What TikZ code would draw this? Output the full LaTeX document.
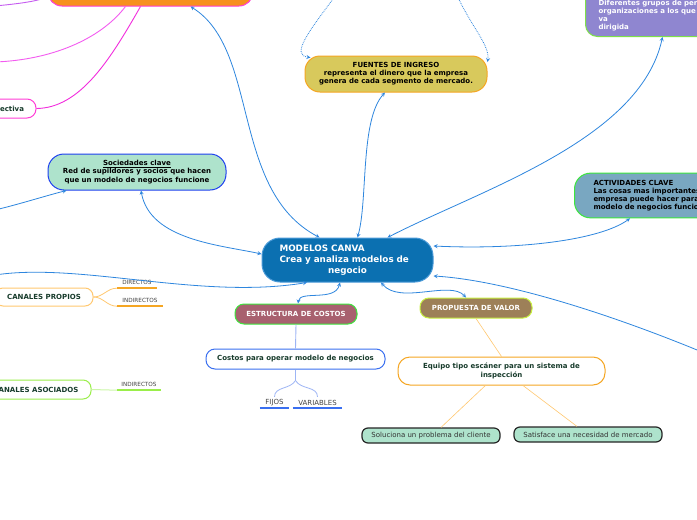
\documentclass[tikz,border=0pt]{standalone}
\usepackage{fontspec}
\setmainfont{DejaVu Sans}

\definecolor{corange}{HTML}{F7901E}
\definecolor{cmagenta}{HTML}{FF3DD6}
\definecolor{cviolet}{HTML}{C65CF0}
\definecolor{cpink}{HTML}{F35BF0}
\definecolor{cfuchsia}{HTML}{F22CDD}
\definecolor{cyellow}{HTML}{D8C95C}
\definecolor{camber}{HTML}{F5A623}
\definecolor{cpurple}{HTML}{8F86D0}
\definecolor{cgreen}{HTML}{7FE04A}
\definecolor{cmint}{HTML}{AEE3CC}
\definecolor{cdblue}{HTML}{1E40F0}
\definecolor{csteel}{HTML}{79A7C1}
\definecolor{cvgreen}{HTML}{3EE63E}
\definecolor{ccentral}{HTML}{0B70B1}
\definecolor{cedge}{HTML}{4A9AD8}
\definecolor{cmauve}{HTML}{A8616F}
\definecolor{cbrown}{HTML}{9D8058}
\definecolor{cygreen}{HTML}{C8F040}
\definecolor{ccost}{HTML}{3A6FF0}
\definecolor{clblue}{HTML}{9DB5F5}
\definecolor{clgreen}{HTML}{9AEE4A}
\definecolor{cpgreen}{HTML}{CCF7A8}
\definecolor{clorange}{HTML}{FFC870}
\definecolor{dkgreen}{HTML}{173B2B}
\definecolor{tagtext}{HTML}{444444}
\definecolor{cblue}{HTML}{2E86DE}

\begin{document}
\begin{tikzpicture}[x=1pt,y=-1pt]
    \tikzstyle{pill} = [rectangle, rounded corners=9pt, inner sep=0pt, line width=1pt,
        font=\fontsize{7}{8.5}\selectfont\bfseries, align=center]
    \tikzstyle{leaf} = [pill, rounded corners=6pt, fill=cmint, draw=black!85,
        line width=1.2pt, minimum height=15pt, font=\fontsize{7}{8.5}\selectfont,
        text=black!80]
    \tikzstyle{tag} = [inner sep=0pt, minimum height=11pt,
        font=\fontsize{5.7}{7}\selectfont, text=tagtext]
    \tikzstyle{link} = [cblue, line width=0.8pt, <->, >=stealth]
    \tikzstyle{under} = [line width=1.6pt]

    \fill[white] (0,0) rectangle (697,520);
    \useasboundingbox (0,0) rectangle (697,520);

    % ramas de la izquierda
    \node (ori) [pill, fill=corange, draw=cmagenta, minimum width=205pt,
        minimum height=36pt, rounded corners=14pt] at (150.5,-12) {};
    \node (per) [pill, fill=white, draw=cmagenta, text=dkgreen, minimum width=80pt,
        minimum height=19pt, text width=56pt, align=right] at (-4,108.5) {ectiva};
    \coordinate (m1) at (-5,6);
    \coordinate (m2) at (-5,62);
    \draw [cviolet, line width=0.9pt] (ori.185) .. controls (35,2) and (15,4) .. (m1);
    \draw [cpink, line width=0.9pt] ([xshift=-25pt]ori.south) .. controls (100,40) and (50,60) .. (m2);
    \draw [cfuchsia, line width=0.9pt] ([xshift=-10pt]ori.south) .. controls (110,60) and (80,108) .. (per.east);

    \node (soc) [pill, fill=cmint, draw=cdblue, minimum width=178pt, minimum height=36pt,
        rounded corners=16pt, font=\fontsize{7}{8.7}\selectfont\bfseries] at (137,172)
        {\underline{Sociedades clave}\\Red de supildores y socios que hacen\\que un modelo de negocios funcione};
    \node (fue) [pill, fill=cyellow, draw=camber, minimum width=182pt, minimum height=36pt,
        rounded corners=15pt, font=\fontsize{7}{8}\selectfont\bfseries] at (396,74)
        {FUENTES DE INGRESO\\representa el dinero que la empresa\\genera de cada segmento de mercado.};
    \node (seg) [pill, fill=cpurple, draw=cgreen, text=white, anchor=south west,
        text width=150pt, inner xsep=13pt, inner ysep=5pt, align=left, rounded corners=12pt,
        font=\fontsize{7}{8}\selectfont\bfseries] at (585,37)
        {\phantom{X}\\Diferentes grupos de personas u\\organizaciones a los que\\va\\dirigida};
    \node (act) [pill, fill=csteel, draw=cvgreen, anchor=west, text width=170pt,
        inner xsep=19pt, inner ysep=7pt, align=left, rounded corners=16pt,
        font=\fontsize{7}{8}\selectfont\bfseries] at (574,195.5)
        {ACTIVIDADES CLAVE\\Las cosas mas importantes que la\\empresa puede hacer para que un\\modelo de negocios funcione};

    \node (cen) [pill, fill=ccentral, draw=cedge, text=white, minimum width=171pt,
        minimum height=44pt, rounded corners=18pt, text width=136pt, align=left,
        font=\fontsize{8.8}{10.8}\selectfont\bfseries] at (347.5,260)
        {MODELOS CANVA\\Crea y analiza modelos de\\\makebox[\linewidth]{negocio}};

    \node (est) [pill, fill=cmauve, draw=cvgreen, text=white, minimum width=122pt,
        minimum height=20pt] at (296,314) {ESTRUCTURA DE COSTOS};
    \node (pro) [pill, fill=cbrown, draw=cygreen, text=white, minimum width=112pt,
        minimum height=20pt] at (476,308) {PROPUESTA DE VALOR};
    \node (cos) [pill, fill=white, draw=ccost, text=dkgreen, minimum width=179pt,
        minimum height=20pt] at (295.5,359) {Costos para operar modelo de negocios};
    \node (equ) [pill, fill=white, draw=camber, text=dkgreen, minimum width=207pt,
        minimum height=28pt, rounded corners=12pt] at (501.5,371)
        {Equipo tipo escáner para un sistema de\\inspección};
    \node (sol) [leaf, minimum width=138pt] at (431,435.5) {Soluciona un problema del cliente};
    \node (sat) [leaf, minimum width=148pt] at (588,434.5) {Satisface una necesidad de mercado};

    \node (cp) [pill, fill=white, draw=clorange, text=dkgreen, minimum width=98pt,
        minimum height=18pt, rounded corners=8pt] at (44,297) {CANALES PROPIOS};
    \node (ca) [pill, fill=white, draw=clgreen, text=dkgreen, minimum width=110pt,
        minimum height=19pt, rounded corners=8pt] at (36,389.5) {CANALES ASOCIADOS};

    \node (dir) [tag, minimum width=40pt] at (137,282.5) {DIRECTOS};
    \node (ind) [tag, minimum width=46pt] at (140,300.5) {INDIRECTOS};
    \node (ind2) [tag, minimum width=44pt] at (139,384.5) {INDIRECTOS};
    \node (fij) [tag, minimum width=29pt, font=\fontsize{7}{8}\selectfont] at (274.5,402.5) {FIJOS};
    \node (var) [tag, minimum width=49pt, font=\fontsize{7}{8}\selectfont] at (317.5,402.5) {VARIABLES};

    % subramas
    \draw [clorange, line width=0.8pt] (cp.east) to[out=0,in=180] (dir.south west);
    \draw [clorange, line width=0.8pt] (cp.east) to[out=0,in=180] (ind.south west);
    \draw [under, camber] (dir.south west) -- (dir.south east);
    \draw [under, camber] (ind.south west) -- (ind.south east);
    \draw [cpgreen, line width=1pt] (ca.east) -- (ind2.south west);
    \draw [under, clgreen] (ind2.south west) -- (ind2.south east);
    \draw [clblue, line width=0.9pt] (est.south) -- (cos.north);
    \draw [clblue, line width=0.8pt] (cos.south) -- ++(0,11) coordinate (cj);
    \draw [clblue, line width=0.8pt] (cj) to[out=-120,in=90] (fij.north);
    \draw [clblue, line width=0.8pt] (cj) to[out=-60,in=90] (var.north);
    \draw [under, ccost] (fij.south west) -- (fij.south east);
    \draw [under, ccost] (var.south west) -- (var.south east);
    \draw [clorange, line width=0.6pt] (pro.south) -- (equ.north);
    \draw [clorange, line width=0.6pt] (equ.-138) -- ([xshift=10pt]sol.north);
    \draw [clorange, line width=0.6pt] (equ.-34) -- ([xshift=-11pt]sat.north);

    % conexiones
    \draw [link] ([xshift=-28pt]cen.north) .. controls (230,190) and (260,50) .. ([xshift=40pt]ori.south);
    \draw [link] ([xshift=10pt]cen.north) .. controls (368,200) and (360,120) .. ([xshift=-11pt]fue.south);
    \draw [link] ([xshift=40pt]cen.north) .. controls (480,190) and (640,140) .. ([xshift=-11pt]seg.south);
    \draw [link] ([yshift=14pt]cen.east) .. controls (520,250) and (600,240) .. ([xshift=56pt]act.south west);
    \draw [link] ([yshift=6pt]cen.west) .. controls (220,245) and (150,240) .. ([xshift=4pt]soc.south);
    \draw [link] ([xshift=-7.5pt]cen.south) .. controls (335,302) and (300,290) .. ([xshift=2pt]est.north);
    \draw [link] ([xshift=33.5pt]cen.south) .. controls (400,305) and (450,280) .. ([xshift=-10pt]pro.north);
    \coordinate (l1) at (-5,210);
    \coordinate (l2) at (-5,275);
    \coordinate (r1) at (702,352);
    \draw [cblue, line width=0.8pt, ->, >=stealth] (l1) .. controls (20,204) and (45,196) .. ([xshift=19pt]soc.south west);
    \draw [cblue, line width=0.8pt, ->, >=stealth] (l2) .. controls (80,262) and (200,300) .. ([xshift=-40.5pt]cen.south);
    \draw [cblue, line width=0.8pt, ->, >=stealth] (r1) .. controls (600,310) and (500,280) .. ([yshift=-16pt]cen.east);

    % flechas punteadas desde arriba
    \coordinate (d1) at (336,-5);
    \coordinate (d2) at (457,-5);
    \draw [cblue, line width=0.8pt, densely dotted, ->, >=stealth] (d1) .. controls (310,30) and (290,55) .. ([xshift=6pt,yshift=-2pt]fue.north west);
    \draw [cblue, line width=0.8pt, densely dotted, ->, >=stealth] (d2) .. controls (470,25) and (490,45) .. ([yshift=12pt]fue.east);
\end{tikzpicture}
\end{document}
